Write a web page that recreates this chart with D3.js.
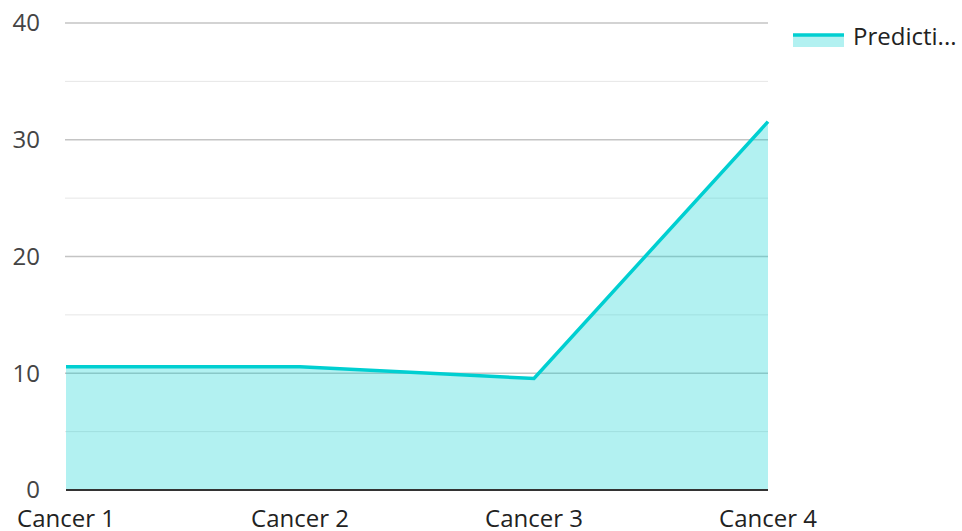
<!DOCTYPE html>
<html>
<head>
<meta charset="utf-8">
<script src="https://cdn.jsdelivr.net/npm/d3@7"></script>
<style>
  body { margin: 0; background: #fff; }
  text { font-family: "Open Sans", "Noto Sans", sans-serif; }
</style>
</head>
<body>
<div id="chart"></div>
<script>
// data
var categories = ["Cancer 1", "Cancer 2", "Cancer 3", "Cancer 4"];
var predictions = [10.55, 10.55, 9.55, 31.55];
var yTicks = [0, 10, 20, 30, 40];
var minorTicks = [5, 15, 25, 35];
var seriesName = "Predicti...";

var svgWidth = 962, svgHeight = 531;
var margin = { top: 23, right: 194, bottom: 41, left: 66 };
var width = svgWidth - margin.left - margin.right;
var height = svgHeight - margin.top - margin.bottom;
var color = "#00cfd1";

var svg = d3.select("#chart").append("svg")
    .attr("width", svgWidth)
    .attr("height", svgHeight);

var chartGroup = svg.append("g")
    .attr("transform", `translate(${margin.left}, ${margin.top})`);

var xScale = d3.scalePoint().domain(categories).range([0, width]);
var yScale = d3.scaleLinear().domain([0, 40]).range([height, 0]);

// grid
chartGroup.selectAll("line.minor")
    .data(minorTicks)
    .join("line")
    .attr("class", "minor")
    .attr("x1", -1).attr("x2", width)
    .attr("y1", d => yScale(d)).attr("y2", d => yScale(d))
    .attr("stroke", "#e6e6e6").attr("stroke-width", 1);

chartGroup.selectAll("line.major")
    .data(yTicks.filter(d => d > 0))
    .join("line")
    .attr("class", "major")
    .attr("x1", -1).attr("x2", width)
    .attr("y1", d => yScale(d)).attr("y2", d => yScale(d))
    .attr("stroke", "#c4c4c4").attr("stroke-width", 1.3);

// y labels
chartGroup.selectAll("text.ylab")
    .data(yTicks)
    .join("text")
    .attr("class", "ylab")
    .attr("x", -26)
    .attr("y", d => yScale(d))
    .attr("dy", "0.35em")
    .attr("text-anchor", "end")
    .attr("font-size", 24)
    .attr("fill", "#444")
    .text(d => d);

// area + line
var pts = categories.map((c, i) => ({ c: c, v: predictions[i] }));

var area = d3.area()
    .x(d => xScale(d.c))
    .y0(yScale(0))
    .y1(d => yScale(d.v));
chartGroup.append("path")
    .datum(pts)
    .attr("d", area)
    .attr("fill", color)
    .attr("fill-opacity", 0.3);

var line = d3.line()
    .x(d => xScale(d.c))
    .y(d => yScale(d.v));
chartGroup.append("path")
    .datum(pts)
    .attr("d", line)
    .attr("fill", "none")
    .attr("stroke", color)
    .attr("stroke-width", 3.5);

// x axis line
chartGroup.append("line")
    .attr("x1", 0).attr("x2", width)
    .attr("y1", height).attr("y2", height)
    .attr("stroke", "#333").attr("stroke-width", 2);

// x labels
chartGroup.selectAll("text.xlab")
    .data(categories)
    .join("text")
    .attr("class", "xlab")
    .attr("x", d => xScale(d))
    .attr("y", height + 37)
    .attr("text-anchor", "middle")
    .attr("font-size", 24)
    .attr("fill", "#222")
    .text(d => d);

// legend
var legend = svg.append("g").attr("transform", "translate(793, 34)");
legend.append("rect")
    .attr("x", 0).attr("y", 0)
    .attr("width", 51).attr("height", 13)
    .attr("fill", color).attr("fill-opacity", 0.3);
legend.append("line")
    .attr("x1", 0).attr("x2", 51)
    .attr("y1", 1).attr("y2", 1)
    .attr("stroke", color).attr("stroke-width", 3.5);
legend.append("text")
    .attr("x", 60)
    .attr("y", 3)
    .attr("dy", "0.35em")
    .attr("font-size", 24)
    .attr("fill", "#222")
    .text(seriesName);
</script>
</body>
</html>
